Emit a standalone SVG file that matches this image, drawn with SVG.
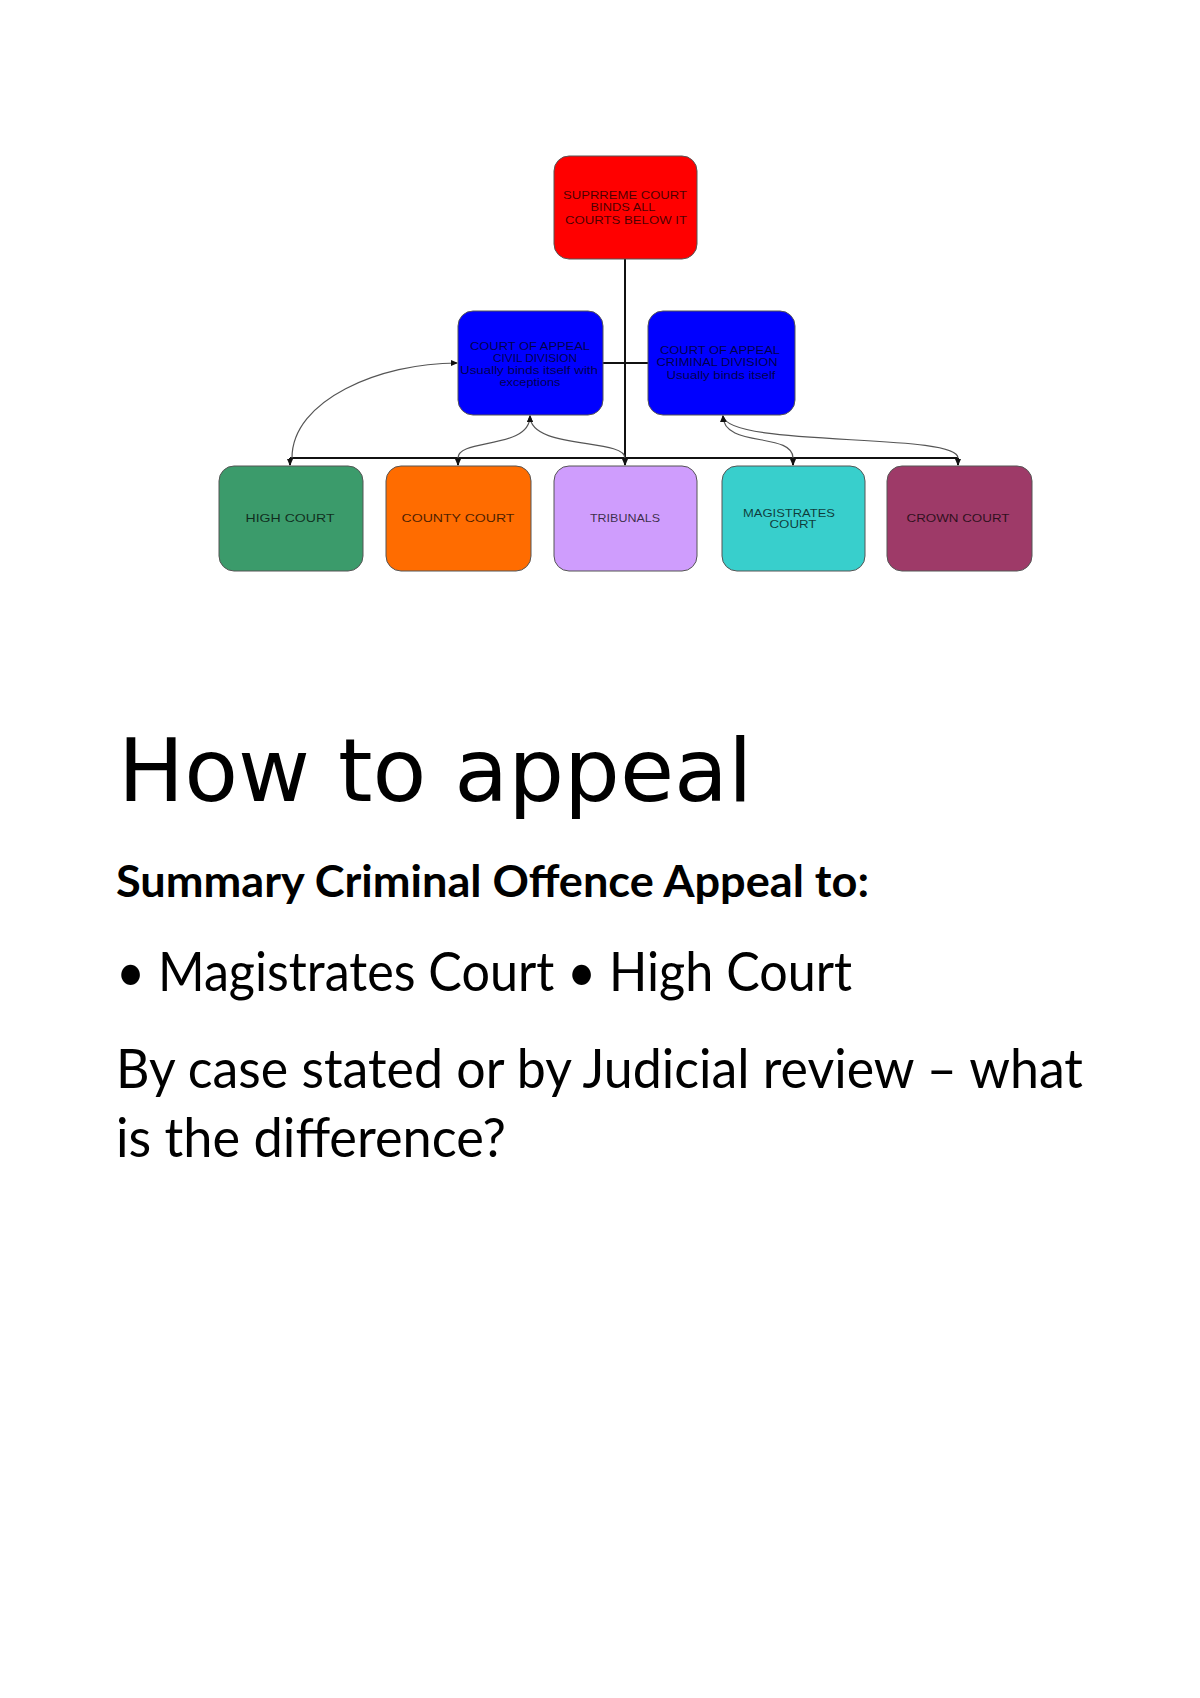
<svg xmlns="http://www.w3.org/2000/svg" width="1200" height="1698" viewBox="0 0 1200 1698">
<style>
.box{stroke:#555;stroke-width:1}
.lbl{font-family:"Liberation Sans",Arial,sans-serif;font-size:11.5px;fill:#000;fill-opacity:0.72;text-anchor:middle}
.main{stroke:#111;stroke-width:2;fill:none}
.thin{stroke:#555;stroke-width:1.2;fill:none}
.body{font-family:Lato,"Open Sans",sans-serif;fill:#000}
</style>
<defs>
<marker id="ah" markerWidth="8" markerHeight="8" refX="6" refY="4" orient="auto" markerUnits="userSpaceOnUse">
<path d="M0,1 L7,4 L0,7 Z" fill="#111"/>
</marker>
</defs>
<rect width="1200" height="1698" fill="#fff"/>

<g id="connectors">
<path class="main" d="M625,259 L625,458"/>
<path class="main" d="M290,458 L958,458"/>
<path class="main" d="M603,363 L648,363"/>
<path class="main" d="M290,458 L290,465" marker-end="url(#ah)"/>
<path class="main" d="M458,458 L458,465" marker-end="url(#ah)"/>
<path class="main" d="M625,458 L625,465" marker-end="url(#ah)"/>
<path class="main" d="M793,458 L793,465" marker-end="url(#ah)"/>
<path class="main" d="M958,458 L958,465" marker-end="url(#ah)"/>
<path class="thin" d="M292,458 C292,400 380,363 457,363" marker-end="url(#ah)"/>
<path class="thin" d="M458,458 C458,438 530,450 530,416" marker-end="url(#ah)"/>
<path class="thin" d="M625,458 C625,438 530,450 530,416" marker-end="url(#ah)"/>
<path class="thin" d="M793,458 C793,432 723,448 723,416" marker-end="url(#ah)"/>
<path class="thin" d="M958,458 C958,432 728,448 723,416" marker-end="url(#ah)"/>
</g>

<g id="supreme">
<rect class="box" x="554" y="156" width="143" height="103" rx="15" fill="#ff0000"/>
<text class="lbl" x="625" y="199" textLength="124" lengthAdjust="spacingAndGlyphs">SUPRREME COURT</text>
<text class="lbl" x="623" y="211" textLength="65" lengthAdjust="spacingAndGlyphs">BINDS ALL</text>
<text class="lbl" x="626" y="224" textLength="122" lengthAdjust="spacingAndGlyphs">COURTS BELOW IT</text>
</g>

<g id="ca-civil">
<rect class="box" x="458" y="311" width="145" height="104" rx="15" fill="#0000ff"/>
<text class="lbl" x="530" y="350" textLength="120" lengthAdjust="spacingAndGlyphs">COURT OF APPEAL</text>
<text class="lbl" x="535" y="362" textLength="84" lengthAdjust="spacingAndGlyphs">CIVIL  DIVISION</text>
<text class="lbl" x="529" y="374" textLength="138" lengthAdjust="spacingAndGlyphs">Usually binds itself with</text>
<text class="lbl" x="530" y="386" textLength="61" lengthAdjust="spacingAndGlyphs">exceptions</text>
</g>

<g id="ca-criminal">
<rect class="box" x="648" y="311" width="147" height="104" rx="15" fill="#0000ff"/>
<text class="lbl" x="720" y="354" textLength="120" lengthAdjust="spacingAndGlyphs">COURT OF APPEAL</text>
<text class="lbl" x="717" y="366" textLength="121" lengthAdjust="spacingAndGlyphs">CRIMINAL  DIVISION</text>
<text class="lbl" x="721" y="379" textLength="109" lengthAdjust="spacingAndGlyphs">Usually binds itself</text>
</g>

<g id="high-court">
<rect class="box" x="219" y="466" width="144" height="105" rx="15" fill="#3b9b6b"/>
<text class="lbl" x="290" y="522" textLength="89" lengthAdjust="spacingAndGlyphs">HIGH  COURT</text>
</g>

<g id="county-court">
<rect class="box" x="386" y="466" width="145" height="105" rx="15" fill="#ff6c00"/>
<text class="lbl" x="458" y="522" textLength="113" lengthAdjust="spacingAndGlyphs">COUNTY  COURT</text>
</g>

<g id="tribunals">
<rect class="box" x="554" y="466" width="143" height="105" rx="15" fill="#cf9dfd"/>
<text class="lbl" x="625" y="522" textLength="70" lengthAdjust="spacingAndGlyphs">TRIBUNALS</text>
</g>

<g id="magistrates">
<rect class="box" x="722" y="466" width="143" height="105" rx="15" fill="#38cfcc"/>
<text class="lbl" x="789" y="517" textLength="92" lengthAdjust="spacingAndGlyphs">MAGISTRATES</text>
<text class="lbl" x="793" y="528" textLength="47" lengthAdjust="spacingAndGlyphs">COURT</text>
</g>

<g id="crown-court">
<rect class="box" x="887" y="466" width="145" height="105" rx="15" fill="#9e3a68"/>
<text class="lbl" x="958" y="522" textLength="103" lengthAdjust="spacingAndGlyphs">CROWN COURT</text>
</g>

<text x="118" y="801" font-family="DejaVu Sans,sans-serif" font-size="88" fill="#000">How to appeal</text>
<text class="body" x="116" y="897" font-size="44" font-weight="bold" textLength="753" lengthAdjust="spacingAndGlyphs">Summary Criminal Offence Appeal to:</text>
<text class="body" x="116" y="991" font-size="54" textLength="736" lengthAdjust="spacingAndGlyphs">• Magistrates Court • High Court</text>
<text class="body" x="116" y="1088" font-size="54" textLength="967" lengthAdjust="spacingAndGlyphs">By case stated or by Judicial review – what</text>
<text class="body" x="116" y="1157" font-size="54" textLength="390" lengthAdjust="spacingAndGlyphs">is the difference?</text>
</svg>
